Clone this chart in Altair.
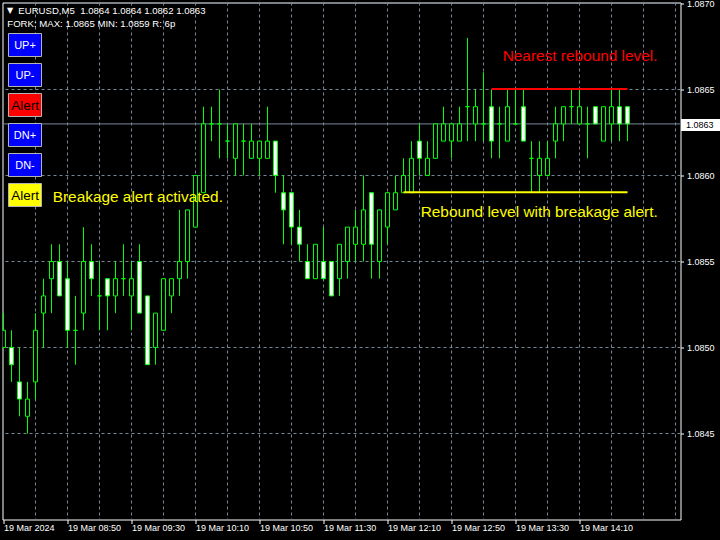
import json

import altair as alt
import numpy as np
import pandas as pd

# ---- chart content ---------------------------------------------------------
symbol = "EURUSD,M5"

# axis labels every 8 bars (40 minutes); first one carries the date
time_labels = [
    "19 Mar 2024", "19 Mar 08:50", "19 Mar 09:30", "19 Mar 10:10",
    "19 Mar 10:50", "19 Mar 11:30", "19 Mar 12:10", "19 Mar 12:50",
    "19 Mar 13:30", "19 Mar 14:10",
]
label_step = 8
grid_step = 4
price_ticks = [1.0845, 1.0850, 1.0855, 1.0860, 1.0865, 1.0870]

# 5-minute bars from 08:10
opens = [
    1.0850, 1.0850, 1.0848, 1.0846, 1.0848, 1.0852, 1.0854, 1.0855, 1.0854, 1.0851,
    1.0852, 1.0855, 1.0853, 1.0854, 1.0853, 1.0854, 1.0853, 1.0855, 1.0853, 1.0850,
    1.0851, 1.0853, 1.0854, 1.0855, 1.0857, 1.0859, 1.0863, 1.0863, 1.0862, 1.0861,
    1.0862, 1.0861, 1.0861, 1.0861, 1.0862, 1.0859, 1.0859, 1.0857, 1.0855, 1.0854,
    1.0855, 1.0855, 1.0854, 1.0855, 1.0856, 1.0856, 1.0859, 1.0855, 1.0857, 1.0858,
    1.0859, 1.0859, 1.0862, 1.0860, 1.0861, 1.0862, 1.0862, 1.0862, 1.0864, 1.0863,
    1.0863, 1.0864, 1.0863, 1.0862, 1.0863, 1.0864, 1.0861, 1.0860, 1.0860, 1.0862,
    1.0863, 1.0864, 1.0863, 1.0863, 1.0864, 1.0862, 1.0863, 1.0864, 1.0864,
]
highs = [
    1.0852, 1.0851, 1.0850, 1.0848, 1.0852, 1.0854, 1.0856, 1.0856, 1.0855, 1.0853,
    1.0857, 1.0856, 1.0855, 1.0854, 1.0855, 1.0856, 1.0855, 1.0856, 1.0853, 1.0852,
    1.0854, 1.0854, 1.0858, 1.0858, 1.0860, 1.0864, 1.0864, 1.0865, 1.0863, 1.0863,
    1.0863, 1.0863, 1.0862, 1.0864, 1.0862, 1.0860, 1.0859, 1.0858, 1.0856, 1.0856,
    1.0857, 1.0855, 1.0856, 1.0857, 1.0858, 1.0860, 1.0859, 1.0858, 1.0859, 1.0860,
    1.0861, 1.0862, 1.0863, 1.0862, 1.0863, 1.0864, 1.0863, 1.0864, 1.0868, 1.0865,
    1.0866, 1.0865, 1.0864, 1.0865, 1.0865, 1.0865, 1.0862, 1.0862, 1.0862, 1.0864,
    1.0864, 1.0865, 1.0865, 1.0864, 1.0864, 1.0864, 1.0865, 1.0865, 1.0864,
]
lows = [
    1.0850, 1.0848, 1.0846, 1.0845, 1.0847, 1.0850, 1.0852, 1.0853, 1.0850, 1.0849,
    1.0851, 1.0853, 1.0851, 1.0851, 1.0852, 1.0853, 1.0851, 1.0852, 1.0849, 1.0849,
    1.0851, 1.0852, 1.0853, 1.0854, 1.0857, 1.0859, 1.0862, 1.0861, 1.0861, 1.0860,
    1.0860, 1.0861, 1.0860, 1.0861, 1.0859, 1.0856, 1.0856, 1.0855, 1.0854, 1.0854,
    1.0854, 1.0853, 1.0853, 1.0854, 1.0855, 1.0855, 1.0854, 1.0854, 1.0856, 1.0858,
    1.0859, 1.0859, 1.0860, 1.0860, 1.0861, 1.0862, 1.0861, 1.0862, 1.0862, 1.0862,
    1.0862, 1.0861, 1.0861, 1.0862, 1.0863, 1.0862, 1.0859, 1.0859, 1.0860, 1.0861,
    1.0862, 1.0863, 1.0863, 1.0861, 1.0863, 1.0862, 1.0862, 1.0862, 1.0862,
]
closes = [
    1.0851, 1.0849, 1.0847, 1.0847, 1.0851, 1.0853, 1.0855, 1.0853, 1.0851, 1.0851,
    1.0855, 1.0854, 1.0853, 1.0853, 1.0854, 1.0854, 1.0854, 1.0852, 1.0849, 1.0852,
    1.0854, 1.0854, 1.0855, 1.0858, 1.0860, 1.0863, 1.0863, 1.0863, 1.0862, 1.0863,
    1.0862, 1.0862, 1.0862, 1.0862, 1.0860, 1.0858, 1.0857, 1.0856, 1.0854, 1.0856,
    1.0854, 1.0853, 1.0856, 1.0857, 1.0857, 1.0858, 1.0856, 1.0858, 1.0859, 1.0859,
    1.0860, 1.0861, 1.0861, 1.0861, 1.0863, 1.0863, 1.0863, 1.0863, 1.0864, 1.0864,
    1.0863, 1.0862, 1.0863, 1.0864, 1.0863, 1.0862, 1.0861, 1.0861, 1.0861, 1.0863,
    1.0864, 1.0864, 1.0864, 1.0863, 1.0863, 1.0864, 1.0864, 1.0863, 1.0863,
]

# fork levels: upper = nearest rebound, lower = rebound with breakage alert
fork_max = 1.0865
fork_min = 1.0859
level_names = ["Nearest rebound level.", "Rebound level with breakage alert."]
level_prices = [fork_max, fork_min]
level_start = [61, 50]
level_end = [78, 78]
level_colors = ["#FF0000", "#FFFF00"]
# where each level caption sits (bar index, price at text baseline)
caption_bar = [62.4, 52.15]
caption_price = [1.086667, 1.085760]

button_names = ["UP+", "UP-", "Alert", "DN+", "DN-", "Alert"]
button_fills = ["#0000FF", "#0000FF", "#FF0000", "#0000FF", "#0000FF", "#FFFF00"]
button_inks = ["white", "white", "black", "white", "white", "black"]
button_sizes = [11, 11, 13.5, 11, 11, 13.5]
alert_message = "Breakage alert activated."

# ---- styling -----------------------------------------------------------------
FONT = "Liberation Sans"
LIME = "#00FF00"
GRID = "#778899"
NOTE_SIZE = 15.4
W, H = 678, 517

bars = pd.DataFrame({
    "bar": np.arange(len(opens)),
    "open": opens, "high": highs, "low": lows, "close": closes,
})
bars["body"] = np.where(bars["close"] < bars["open"], "white", "black")

x_scale = alt.Scale(domain=[-0.125, 84.625], nice=False, zero=False, padding=0)
y_scale = alt.Scale(domain=[1.0840, 1.08700581], nice=False, zero=False, padding=0)

x_axis = alt.Axis(
    values=list(range(0, label_step * len(time_labels), label_step)),
    labelExpr=json.dumps(time_labels) + f"[round(datum.value / {label_step})]",
    grid=False, domain=False, title=None,
    tickColor="white", tickSize=4, tickWidth=1,
    labelColor="white", labelFont=FONT, labelFontSize=9,
    labelAlign="left", labelBaseline="top", labelPadding=0,
    labelFlush=False, labelOverlap=False,
)
y_axis = alt.Axis(
    orient="right", values=price_ticks, format=".4f",
    grid=False, domain=False, title=None,
    tickColor="white", tickSize=3, tickWidth=1,
    labelColor="white", labelFont=FONT, labelFontSize=9,
    labelPadding=3, labelFlush=False, labelOverlap=False,
)


def X(field):
    return alt.X(f"{field}:Q", scale=x_scale, axis=x_axis)


def Y(field):
    return alt.Y(f"{field}:Q", scale=y_scale, axis=y_axis)


# dashed grid: every 20 minutes and every 5 pips
vgrid = alt.Chart(pd.DataFrame({"bar": list(range(grid_step, 85, grid_step))})).mark_rule(
    color=GRID, strokeDash=[3, 3], strokeWidth=1
).encode(x=X("bar"))
hgrid = alt.Chart(pd.DataFrame({"price": price_ticks})).mark_rule(
    color=GRID, strokeDash=[3, 3], strokeWidth=1
).encode(y=Y("price"))

# bid line
last = pd.DataFrame({"price": [closes[-1]]})
bid_line = alt.Chart(last).mark_rule(color=GRID, strokeWidth=1).encode(y=Y("price"))

wicks = alt.Chart(bars).mark_rule(color=LIME, strokeWidth=1, clip=True).encode(
    x=X("bar"), y=Y("low"), y2="high"
)
bodies = alt.Chart(bars).mark_bar(size=4, stroke=LIME, strokeWidth=1, clip=True).encode(
    x=X("bar"), y=Y("open"), y2="close", fill=alt.Fill("body:N", scale=None)
)

levels = pd.DataFrame({
    "name": level_names, "price": level_prices, "start": level_start,
    "end": level_end, "color": level_colors,
    "cap_bar": caption_bar, "cap_price": caption_price,
})
level_lines = alt.Chart(levels).mark_rule(strokeWidth=2, yOffset=-0.5).encode(
    x=X("start"), x2="end", y=Y("price"), color=alt.Color("color:N", scale=None)
)
level_text = alt.Chart(levels).mark_text(
    align="left", baseline="alphabetic", font=FONT, fontSize=NOTE_SIZE
).encode(
    x=X("cap_bar"), y=Y("cap_price"), text="name:N", color=alt.Color("color:N", scale=None)
)

# price tag on the right scale
tag_box = alt.Chart(last).mark_rect(fill="white", yOffset=-5, y2Offset=7).encode(
    x=alt.value(678.5), x2=alt.value(717.5), y=Y("price"), y2="price"
)
tag_text = alt.Chart(last).mark_text(
    align="left", baseline="middle", font=FONT, fontSize=9, color="black", dy=1
).encode(x=alt.value(683.5), y=Y("price"), text=alt.Text("price:Q", format=".4f"))

# header lines
header = (
    f"{symbol}\u00a0\u00a0{opens[-1]:.4f} {highs[-1]:.4f} {lows[-1]:.4f} {closes[-1]:.4f}"
)
fork_info = (
    f"FORK: MAX: {fork_max:.4f} MIN: {fork_min:.4f} "
    f"R: {round((fork_max - fork_min) * 10000)}p"
)


def label(text, x, y, size, color="white", font=FONT, align="left", baseline="middle"):
    return alt.Chart(pd.DataFrame({"t": [text]})).mark_text(
        align=align, baseline=baseline, font=font, fontSize=size, color=color
    ).encode(x=alt.value(x), y=alt.value(y), text="t:N")


layers = [
    vgrid, hgrid, bid_line, wicks, bodies, level_lines, level_text, tag_box, tag_text,
    label("\u25bc", 7.5, 8.2, 8, font="DejaVu Sans", align="center"),
    label(header, 15.8, 8.2, 9.6),
    label(fork_info, 4.8, 21.3, 9.6),
]

# panel buttons
for j, (name, fill, ink, size) in enumerate(
    zip(button_names, button_fills, button_inks, button_sizes)
):
    top = 31 + 30 * j
    box = alt.Chart(pd.DataFrame({"t": [name]})).mark_rect(
        fill=fill, stroke="#B4B4B4", strokeWidth=1
    ).encode(
        x=alt.value(6), x2=alt.value(39), y=alt.value(top), y2=alt.value(top + 23)
    )
    layers.append(box)
    layers.append(label(name, 22.5, top + 12, size, color=ink, align="center"))

layers.append(
    label(alert_message, 50.2, 199.2, NOTE_SIZE, color="#FFFF00", baseline="alphabetic")
)

chart = (
    alt.layer(*layers)
    .properties(
        width=W, height=H,
        autosize=alt.AutoSizeParams(type="none"),
        padding={"left": 2.5, "top": 2.5, "right": 39.5, "bottom": 20.5},
    )
    .configure(background="black")
    .configure_view(stroke="white", strokeWidth=1)
)

chart.save("out.html", embed_options={"renderer": "svg", "actions": False})
